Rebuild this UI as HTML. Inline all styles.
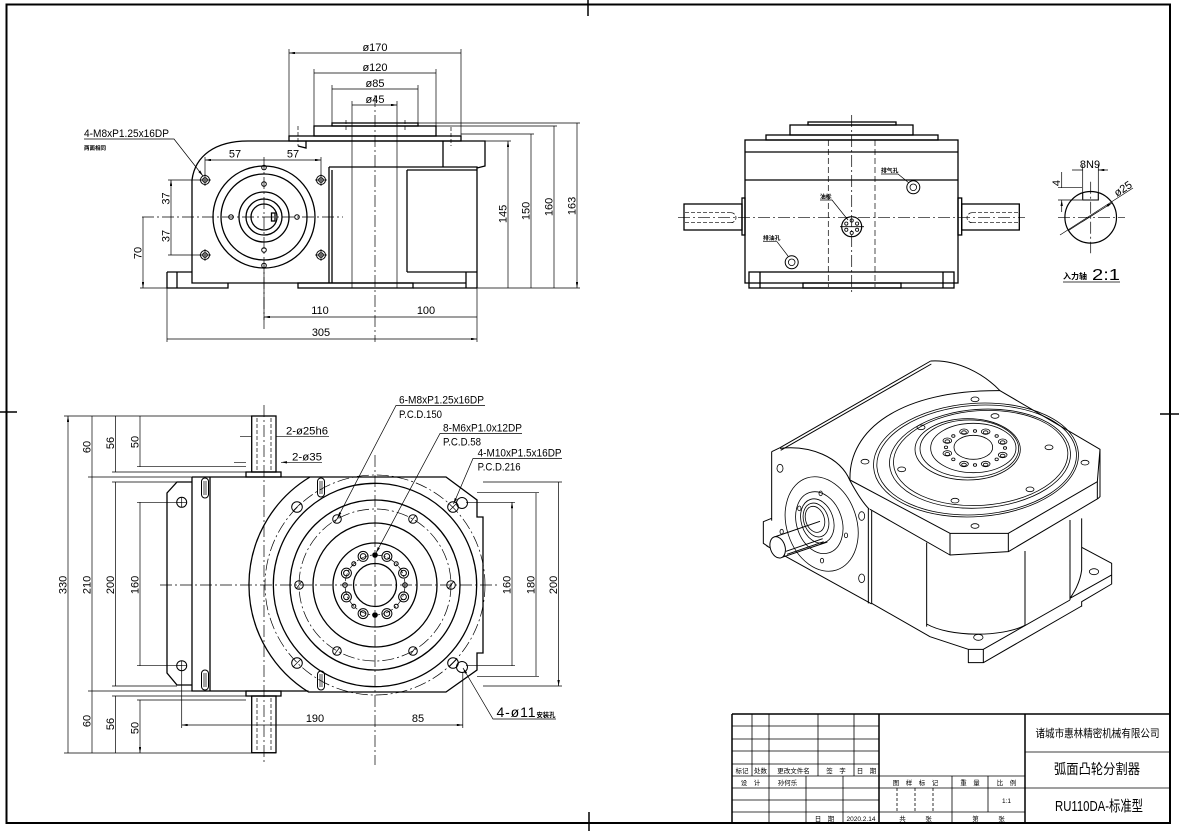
<!DOCTYPE html>
<html><head><meta charset="utf-8"><style>
html,body{margin:0;padding:0;background:#fff;}
svg{display:block;}
text{font-family:"Liberation Sans Narrow","Liberation Sans",sans-serif;fill:#000;stroke:none;}
.cj{font-family:"Liberation Sans","Noto Sans CJK SC",sans-serif;font-weight:bold;}
.tb{font-family:"Liberation Serif","Noto Serif CJK SC",serif;}
</style></head><body>
<svg width="1179" height="831" viewBox="0 0 1179 831" xmlns="http://www.w3.org/2000/svg">
<defs>
<marker id="ar" viewBox="0 0 10 4" refX="10" refY="2" markerWidth="7" markerHeight="2.4" markerUnits="userSpaceOnUse" orient="auto-start-reverse"><path d="M0,0L10,2L0,4z" fill="#000"/></marker>
</defs>
<rect width="1179" height="831" fill="#fff"/>

<!-- Frame -->
<rect x="6.5" y="4.5" width="1163.5" height="818.5" fill="none" stroke="#000" stroke-width="2"/>
<path d="M588,0V16M589,812V831M0,412H17M1160,414H1179" stroke="#000" stroke-width="1.5"/>

<!-- ================= FRONT VIEW ================= -->
<g fill="none" stroke="#000" stroke-width="1.3">
<rect x="332" y="123" width="86" height="3"/>
<rect x="314" y="126" width="122" height="10"/>
<rect x="289" y="136" width="172" height="5"/>
<path d="M248,141H485V166L477,168M443,141V167M329,167H477V288"/>
<path d="M306,141V148L298,146"/>
<path d="M248,141C215,141 195,156 192,180V283H466"/>
<path d="M167,272H192M167,272V288H228V283M177,272V288"/>
<rect x="298" y="283" width="115" height="5"/>
<path d="M413,288H477M466,272V288M407,272H477M407,170V272M407,170H477"/>
<path d="M329,167V283M332,170V283"/>
<circle cx="264" cy="217" r="51"/>
<circle cx="264" cy="217" r="43"/>
<circle cx="264" cy="217" r="25"/>
<circle cx="264" cy="217" r="18"/>
<circle cx="264" cy="217" r="13"/>
<rect x="271.5" y="213" width="3.5" height="8"/>
<g stroke-width="1">
<circle cx="264" cy="184" r="2.3"/><circle cx="231" cy="217" r="2.3"/><circle cx="297" cy="217" r="2.3"/><circle cx="264" cy="250" r="2.3"/><circle cx="264" cy="167.5" r="2.3"/><circle cx="264" cy="265.5" r="2.3"/>
<circle cx="205" cy="180" r="4.5"/><circle cx="205" cy="180" r="2.3"/>
<circle cx="321" cy="180" r="4.5"/><circle cx="321" cy="180" r="2.3"/>
<circle cx="205" cy="255" r="4.5"/><circle cx="205" cy="255" r="2.3"/>
<circle cx="321" cy="255" r="4.5"/><circle cx="321" cy="255" r="2.3"/>
</g>
</g>
<g fill="none" stroke="#000" stroke-width="0.7">
<path d="M352,105V288M397,105V288"/>
<path d="M199,180H211M205,174V186M315,180H327M321,174V186M199,255H211M205,249V261M315,255H327M321,249V261"/>
<path d="M142,217H343M264,157V330M375,95V342" stroke-dasharray="12,3,2,3"/>
<path d="M298,126V146M346,120V130M405,120V130M451,127V146" stroke-dasharray="4,2"/>
<!-- dia dims -->
<path d="M289,49V136M461,49V136M314,69V126M436,69V126M332,85V123M418,85V123M352,101V105M397,101V105"/>
<path d="M289,53H461M314,73H436M332,89H418M352,105H397" marker-start="url(#ar)" marker-end="url(#ar)"/>
<!-- height dims -->
<path d="M485,141H511M461,134H534M436,126H557M418,123H580M477,288H580"/>
<path d="M508,141V288M531,134V288M554,126V288M577,123V288" marker-start="url(#ar)" marker-end="url(#ar)"/>
<!-- bottom dims -->
<path d="M477,288V342M167,288V342M264,265V320"/>
<path d="M264,317H375M375,317H477M167,339H477" marker-start="url(#ar)" marker-end="url(#ar)"/>
<!-- 57 -->
<path d="M205,157V176M321,157V176"/>
<path d="M205,160H264M264,160H321" marker-start="url(#ar)" marker-end="url(#ar)"/>
<!-- 37 / 70 -->
<path d="M168,180H200M168,255H200M140,288H167"/>
<path d="M171,180V217M171,217V255M143,217V288" marker-start="url(#ar)" marker-end="url(#ar)"/>
<!-- leader -->
<path d="M84,139H174L203,176" marker-end="url(#ar)"/>
</g>
<g font-size="11" text-anchor="middle">
<text x="375" y="51">ø170</text>
<text x="375" y="71">ø120</text>
<text x="375" y="87">ø85</text>
<text x="375" y="103">ø45</text>
<text transform="translate(506.5,214) rotate(-90)">145</text>
<text transform="translate(529.5,211) rotate(-90)">150</text>
<text transform="translate(552.5,207) rotate(-90)">160</text>
<text transform="translate(575.5,206) rotate(-90)">163</text>
<text x="320" y="314">110</text>
<text x="426" y="314">100</text>
<text x="321" y="336">305</text>
<text x="235" y="157.5">57</text>
<text x="293" y="157.5">57</text>
<text transform="translate(169.5,198.5) rotate(-90)">37</text>
<text transform="translate(169.5,236) rotate(-90)">37</text>
<text transform="translate(141.5,253) rotate(-90)">70</text>
</g>
<text x="84" y="137" font-size="11" textLength="85" lengthAdjust="spacingAndGlyphs">4-M8xP1.25x16DP</text>
<text x="84" y="150" font-size="5.5" class="cj">两面相同</text>

<!-- ================= SIDE VIEW ================= -->
<g fill="none" stroke="#000" stroke-width="1.3">
<rect x="745" y="140" width="213" height="143"/>
<path d="M745,152H958M745,180H958"/>
<rect x="766" y="135" width="172" height="5"/>
<rect x="790" y="125" width="123" height="10"/>
<rect x="808" y="122" width="88" height="3"/>
<rect x="749" y="272" width="205" height="16"/>
<path d="M760,272V288M943,272V288"/>
<rect x="803" y="283" width="98" height="5"/>
<rect x="684" y="204" width="58" height="26"/>
<rect x="742" y="198" width="3" height="37"/>
<rect x="961.7" y="204" width="57.6" height="26"/>
<rect x="958" y="198" width="3.7" height="37"/>
<circle cx="913.3" cy="187.3" r="6.5" stroke-width="1"/>
<circle cx="913.3" cy="187.3" r="3.3" stroke-width="0.8"/>
<circle cx="851.7" cy="226.7" r="10" stroke-width="1.2"/>
<circle cx="791.7" cy="262.3" r="6.5" stroke-width="1"/>
<circle cx="791.7" cy="262.3" r="3.3" stroke-width="0.8"/>
<circle cx="1090.7" cy="217.3" r="25.8" stroke-width="1.2"/>
<path d="M1082.7,193V200H1098.3V193" stroke-width="1.1"/>
</g>
<g fill="none" stroke="#000" stroke-width="0.8">
<circle cx="851.7" cy="220.5" r="1.6"/><circle cx="851.7" cy="232.9" r="1.6"/><circle cx="846.3" cy="223.6" r="1.6"/><circle cx="857.1" cy="223.6" r="1.6"/><circle cx="846.3" cy="229.8" r="1.6"/><circle cx="857.1" cy="229.8" r="1.6"/>
<path d="M840,226.7H864"/>
</g>
<g fill="none" stroke="#000" stroke-width="0.7">
<path d="M685,212.7H731M685,222.7H731M731,212.7A5,5 0 0 1 731,222.7M1018,212.7H972M1018,222.7H972M972,212.7A5,5 0 0 0 972,222.7" stroke-dasharray="4,2"/>
<path d="M678,217.3H1025M851.7,115V292M1058,217.3H1125M1090.7,181.7V253.3" stroke-dasharray="12,3,2,3"/>
<path d="M828.3,140V287M875,140V287" stroke-dasharray="6,3"/>
<path d="M881,174H898L909,183M820,200H832L848,220M763,241.7H777L788,256"/>
<path d="M1082.7,165V193M1098.3,165V193M1058,187.7H1082M1058,200H1082"/>
<path d="M1072,170H1082.7M1108,170H1098.3" marker-end="url(#ar)"/>
<path d="M1061.7,172V187.7M1061.7,212V200" marker-end="url(#ar)"/>
<path d="M1060,235L1133,188"/>
<path d="M1099,211L1068.7,230.3M1082,222L1112.3,202.7" marker-end="url(#ar)"/>
<path d="M1063,282H1120"/>
</g>
<text x="1090" y="168" font-size="11" text-anchor="middle">8N9</text>
<text transform="translate(1060,183) rotate(-90)" font-size="11" text-anchor="middle">4</text>
<text transform="translate(1117,197) rotate(-33)" font-size="11">ø25</text>
<text x="881" y="172.5" font-size="5.8" class="cj">排气孔</text>
<text x="820" y="198.5" font-size="5.8" class="cj">油标</text>
<text x="763" y="240" font-size="5.8" class="cj">排油孔</text>
<text x="1063" y="279" font-size="8" class="cj">入力轴</text>
<text x="1092" y="280" font-size="16" font-family="Liberation Sans,sans-serif" textLength="28" lengthAdjust="spacingAndGlyphs">2:1</text>

<!-- ================= TOP (PLAN) VIEW ================= -->
<g fill="none" stroke="#000" stroke-width="1.3">
<rect x="251.7" y="416" width="24.3" height="56"/>
<rect x="246" y="472" width="35" height="5"/>
<rect x="246" y="691" width="35" height="5"/>
<rect x="251.7" y="696" width="24.3" height="56.7"/>
<path d="M192,477H310M192,477V691H308.5M210,477V691"/>
<path d="M192,482H177L167,493V673L177,685H192"/>
<path d="M310,477H446L477,500V517H483V653H477V670L446,692H308.5A126,126 0 0 1 310,477Z"/>
<circle cx="375" cy="585" r="101.7"/>
<circle cx="375" cy="585" r="85"/>
<circle cx="375" cy="585" r="62"/>
<circle cx="375" cy="585" r="42"/>
<circle cx="375" cy="585" r="21.5"/>
<g stroke-width="1">
<circle cx="181.7" cy="502.3" r="5"/><circle cx="181.7" cy="665.7" r="5"/>
<circle cx="462" cy="503" r="5.5" fill="#fff"/><circle cx="462" cy="667" r="5.5" fill="#fff"/>
<circle cx="451" cy="585" r="4.3"/><circle cx="413" cy="519" r="4.3"/><circle cx="337" cy="519" r="4.3"/><circle cx="299" cy="585" r="4.3"/><circle cx="337" cy="651" r="4.3"/><circle cx="413" cy="651" r="4.3"/>
<circle cx="297" cy="507" r="5.3"/><circle cx="453" cy="507" r="5.3"/><circle cx="297" cy="663" r="5.3"/><circle cx="453" cy="663" r="5.3"/>
<circle cx="403.6" cy="573.1" r="5"/><circle cx="346.4" cy="573.1" r="5"/><circle cx="403.6" cy="596.9" r="5"/><circle cx="346.4" cy="596.9" r="5"/>
<circle cx="386.9" cy="556.4" r="5"/><circle cx="363.1" cy="556.4" r="5"/><circle cx="386.9" cy="613.6" r="5"/><circle cx="363.1" cy="613.6" r="5"/>
<circle cx="403.6" cy="573.1" r="2.8"/><circle cx="346.4" cy="573.1" r="2.8"/><circle cx="403.6" cy="596.9" r="2.8"/><circle cx="346.4" cy="596.9" r="2.8"/>
<circle cx="386.9" cy="556.4" r="2.8"/><circle cx="363.1" cy="556.4" r="2.8"/><circle cx="386.9" cy="613.6" r="2.8"/><circle cx="363.1" cy="613.6" r="2.8"/>
<circle cx="375" cy="555" r="2.3" fill="#000"/><circle cx="375" cy="615" r="2.3" fill="#000"/><circle cx="345" cy="585" r="2.3"/><circle cx="405" cy="585" r="2.3"/>
<circle cx="353.8" cy="563.8" r="2"/><circle cx="396.2" cy="563.8" r="2"/><circle cx="353.8" cy="606.2" r="2"/><circle cx="396.2" cy="606.2" r="2"/>
<rect x="201.5" y="478" width="7" height="20" rx="3.5"/><rect x="201.5" y="670" width="7" height="20" rx="3.5"/>
<rect x="317.5" y="478" width="7" height="19" rx="3.5"/><rect x="317.5" y="671" width="7" height="19" rx="3.5"/>
</g>
</g>
<g fill="none" stroke="#000" stroke-width="0.7">
<path d="M176.7,502.3H186.7M181.7,497.3V507.3M176.7,665.7H186.7M181.7,660.7V670.7"/>
<path d="M448,589L454,581M410,523L416,515M334,523L340,515M296,589L302,581M334,655L340,647M410,655L416,647M293,511L301,503M449,511L457,503M293,667L301,659M449,667L457,659"/>
<path d="M204,481V495M206,481V495M204,673V687M206,673V687M320,481V494M322,481V494M320,674V687M322,674V687"/>
<circle cx="375" cy="585" r="110" stroke-dasharray="12,3,2,3"/>
<circle cx="375" cy="585" r="76" stroke-dasharray="12,3,2,3"/>
<circle cx="375" cy="585" r="30" stroke-dasharray="8,2,2,2"/>
<path d="M160,585H500M375,455V765M264,405V765" stroke-dasharray="12,3,2,3"/>
<path d="M257,418V470M271,418V470M257,698V750M271,698V750" stroke-dasharray="4,2"/>
<!-- left dims -->
<path d="M64,416H276M112,472H246M137,466.7H246M88,477H192M112,482H177M137,502.3H182M137,665.7H182M112,686H177M88,691H192M112,696H246M137,700H246M64,753H276"/>
<path d="M68,416V753M92,477V691M115.5,482V686M140,502.3V665.7M92,416V477M115.5,416V472M140,416V466.7M92,691V753M115.5,696V753M140,700V753" marker-start="url(#ar)" marker-end="url(#ar)"/>
<!-- shaft dia -->
<path d="M240,436.7H251.7M288,436.7H276M234,462.3H246M293,462.3H281" marker-end="url(#ar)"/>
<path d="M288,436.7H329M293,462.3H322"/>
<!-- bottom dims -->
<path d="M181.7,670V728M462.8,672V728"/>
<path d="M181.7,725H375M375,725H462.8" marker-start="url(#ar)" marker-end="url(#ar)"/>
<!-- right dims -->
<path d="M466,502.3H515M466,665.7H515M477,492.7H539M477,676.3H539M483,482H562M483,686H562"/>
<path d="M512,502.3V665.7M536,492.7V676.3M558.6,482V686" marker-start="url(#ar)" marker-end="url(#ar)"/>
<!-- leaders -->
<path d="M485,405.5H396L337.5,518" marker-end="url(#ar)"/>
<path d="M522,433.5H440L376,553" marker-end="url(#ar)"/>
<path d="M562,458.5H473L453.5,504" marker-end="url(#ar)"/>
<path d="M556,719H493L463,668" marker-end="url(#ar)"/>
</g>
<g font-size="11" text-anchor="middle">
<text transform="translate(66.5,585) rotate(-90)">330</text>
<text transform="translate(90.5,585) rotate(-90)">210</text>
<text transform="translate(114,585) rotate(-90)">200</text>
<text transform="translate(138.5,585) rotate(-90)">160</text>
<text transform="translate(90.5,447) rotate(-90)">60</text>
<text transform="translate(114,443) rotate(-90)">56</text>
<text transform="translate(138.5,442) rotate(-90)">50</text>
<text transform="translate(90.5,721) rotate(-90)">60</text>
<text transform="translate(114,724) rotate(-90)">56</text>
<text transform="translate(138.5,728) rotate(-90)">50</text>
<text transform="translate(510.5,585) rotate(-90)">160</text>
<text transform="translate(534.5,585) rotate(-90)">180</text>
<text transform="translate(557,585) rotate(-90)">200</text>
<text x="315" y="722">190</text>
<text x="418" y="722">85</text>
</g>
<g font-size="11">
<text x="286" y="434.5" textLength="42" lengthAdjust="spacingAndGlyphs">2-ø25h6</text>
<text x="292" y="460.5" textLength="30" lengthAdjust="spacingAndGlyphs">2-ø35</text>
<text x="399" y="403.5" textLength="85" lengthAdjust="spacingAndGlyphs">6-M8xP1.25x16DP</text>
<text x="399" y="418" textLength="43" lengthAdjust="spacingAndGlyphs">P.C.D.150</text>
<text x="443" y="431.5" textLength="79" lengthAdjust="spacingAndGlyphs">8-M6xP1.0x12DP</text>
<text x="443" y="445.5" textLength="38" lengthAdjust="spacingAndGlyphs">P.C.D.58</text>
<text x="477.6" y="456.5" textLength="84" lengthAdjust="spacingAndGlyphs">4-M10xP1.5x16DP</text>
<text x="477.6" y="470.5" textLength="43" lengthAdjust="spacingAndGlyphs">P.C.D.216</text>
</g>
<text x="496.5" y="717" font-size="14" textLength="39" lengthAdjust="spacing">4-ø11</text>
<text x="536.5" y="717" font-size="6.3" class="cj">安装孔</text>

<!-- ================= ISO VIEW ================= -->
<g transform="translate(740,350) scale(0.33333)" fill="none" stroke="#000" stroke-width="3" stroke-linejoin="round">
<path d="M95,305L120,293L572,33M122,301L574,42"/>
<path d="M572,33C650,28 730,70 780,122"/>
<path d="M330,390C325,240 480,120 780,122L1080,298L1072,395L805,550L630,550Z"/>
<path d="M1080,298V440L1075,445M1072,395V445M1075,445L805,605M630,550V615L805,605V550M630,615L390,478"/>
<path d="M385,476V760M395,482V760"/>
<path d="M120,295C210,285 300,320 330,392M330,392C345,420 365,455 388,478"/>
<path d="M95,305V512M95,505L70,515V580L85,590M80,588L395,762"/>
<g stroke-width="2.4">
<ellipse cx="245" cy="522" rx="145" ry="105" transform="rotate(72 245 522)"/>
<ellipse cx="238" cy="518" rx="95" ry="68" transform="rotate(72 238 518)"/>
<ellipse cx="232" cy="513" rx="68" ry="48" transform="rotate(72 232 513)"/>
<ellipse cx="228" cy="510" rx="52" ry="37" transform="rotate(72 228 510)"/>
<ellipse cx="225" cy="508" rx="40" ry="28" transform="rotate(72 225 508)"/>
</g>
<path d="M103,561L240,514M123,623L262,576M138,604L248,566M141,613L251,575" fill="#fff"/>
<ellipse cx="113" cy="592" rx="33" ry="22" transform="rotate(72 113 592)" fill="#fff"/>
<g stroke-width="2.4">
<ellipse cx="120" cy="355" rx="9" ry="12"/>
<ellipse cx="365" cy="498" rx="9" ry="13"/>
<ellipse cx="365" cy="685" rx="9" ry="13"/>
<ellipse cx="178" cy="475" rx="5" ry="7"/>
<ellipse cx="242" cy="430" rx="5" ry="7"/>
<ellipse cx="318" cy="556" rx="5" ry="7"/>
<ellipse cx="246" cy="632" rx="5" ry="7"/>
<ellipse cx="125" cy="545" rx="5" ry="7"/>
</g>
<path d="M560,578V830M855,603V828M560,822C630,862 785,862 855,826"/>
<path d="M395,760L570,860L685,898H730L990,750M685,898V938H730V898M730,938L1025,768"/>
<path d="M990,510V750M990,745L1115,675V640L1025,592M1025,505V660C1020,700 1000,730 990,745M1115,675V702L1025,755V770"/>
<ellipse cx="715" cy="862" rx="14" ry="9" stroke-width="2.4"/>
<ellipse cx="1062" cy="665" rx="14" ry="9" stroke-width="2.4"/>
<g stroke-width="2.4">
<ellipse cx="708" cy="330" rx="308" ry="170" transform="rotate(-4 708 330)"/>
<ellipse cx="710" cy="330" rx="300" ry="164" transform="rotate(-4 710 330)"/>
<ellipse cx="720" cy="326" rx="272" ry="148" transform="rotate(-4 720 326)"/>
<ellipse cx="722" cy="324" rx="262" ry="142" transform="rotate(-4 722 324)"/>
<ellipse cx="683" cy="298" rx="158" ry="92"/>
<ellipse cx="688" cy="296" rx="148" ry="86"/>
<ellipse cx="700" cy="294" rx="128" ry="74"/>
<ellipse cx="700" cy="292" rx="58" ry="36"/>
<ellipse cx="705" cy="148" rx="12" ry="7"/><ellipse cx="765" cy="198" rx="12" ry="7"/><ellipse cx="543" cy="232" rx="12" ry="7"/><ellipse cx="927" cy="292" rx="12" ry="7"/><ellipse cx="375" cy="335" rx="12" ry="7"/><ellipse cx="485" cy="358" rx="12" ry="7"/><ellipse cx="1035" cy="338" rx="12" ry="7"/><ellipse cx="870" cy="418" rx="12" ry="7"/><ellipse cx="645" cy="452" rx="12" ry="7"/><ellipse cx="705" cy="528" rx="12" ry="7"/>
<ellipse cx="672" cy="245" rx="13" ry="8"/><ellipse cx="737" cy="245" rx="13" ry="8"/><ellipse cx="622" cy="272" rx="13" ry="8"/><ellipse cx="788" cy="275" rx="13" ry="8"/><ellipse cx="622" cy="310" rx="13" ry="8"/><ellipse cx="788" cy="315" rx="13" ry="8"/><ellipse cx="672" cy="342" rx="13" ry="8"/><ellipse cx="737" cy="342" rx="13" ry="8"/>
<ellipse cx="672" cy="247" rx="7" ry="4.5"/><ellipse cx="737" cy="247" rx="7" ry="4.5"/><ellipse cx="622" cy="274" rx="7" ry="4.5"/><ellipse cx="788" cy="277" rx="7" ry="4.5"/><ellipse cx="622" cy="312" rx="7" ry="4.5"/><ellipse cx="788" cy="317" rx="7" ry="4.5"/><ellipse cx="672" cy="344" rx="7" ry="4.5"/><ellipse cx="737" cy="344" rx="7" ry="4.5"/>
<ellipse cx="705" cy="243" rx="5" ry="4"/><ellipse cx="770" cy="258" rx="5" ry="4"/><ellipse cx="640" cy="258" rx="5" ry="4"/><ellipse cx="618" cy="292" rx="5" ry="4"/><ellipse cx="795" cy="294" rx="5" ry="4"/><ellipse cx="640" cy="328" rx="5" ry="4"/><ellipse cx="770" cy="328" rx="5" ry="4"/><ellipse cx="705" cy="345" rx="5" ry="4"/>
</g>
</g>

<!-- ================= TITLE BLOCK ================= -->
<g fill="none" stroke="#000">
<path d="M732,714H1170M732,714V823M879,714V823M1025,714V823" stroke-width="1.5"/>
<g stroke-width="0.8">
<path d="M732,726H879M732,739H879M732,751H879M732,764H879M732,776H1025M732,788H1025M732,800H879M732,812H1025"/>
<path d="M752,714V776M769,714V823M818,714V776M854,714V776M806,776V823M843,776V823"/>
<path d="M952,776V823M988,776V812M1025,752H1170M1025,788H1170"/>
<path d="M897,788V812M915,788V812M933,788V812" stroke-dasharray="3,2"/>
</g>
</g>
<g class="tb" font-size="6.5" text-anchor="middle">
<text x="742" y="773">标记</text>
<text x="760.5" y="773">处数</text>
<text x="793.5" y="773">更改文件名</text>
<text x="836" y="773">签　字</text>
<text x="866.5" y="773">日　期</text>
<text x="750.5" y="785">设　计</text>
<text x="787.5" y="785">孙何乐</text>
<text x="824.5" y="821">日　期</text>
<text x="861" y="821">2020.2.14</text>
<text x="915.5" y="785">图　样　标　记</text>
<text x="970" y="785">重　量</text>
<text x="1006.5" y="785">比　例</text>
<text x="1006.5" y="803">1:1</text>
<text x="915.5" y="821">共　　　张</text>
<text x="988.5" y="821">第　　　张</text>
</g>
<g class="tb" text-anchor="middle">
<text x="1097.5" y="737" font-size="11" textLength="124" lengthAdjust="spacingAndGlyphs">诸城市惠林精密机械有限公司</text>
<text x="1097" y="774" font-size="14" textLength="86" lengthAdjust="spacingAndGlyphs">弧面凸轮分割器</text>
<text x="1099" y="811" font-size="15" textLength="88" lengthAdjust="spacingAndGlyphs">RU110DA-标准型</text>
</g>
</svg>
</body></html>
